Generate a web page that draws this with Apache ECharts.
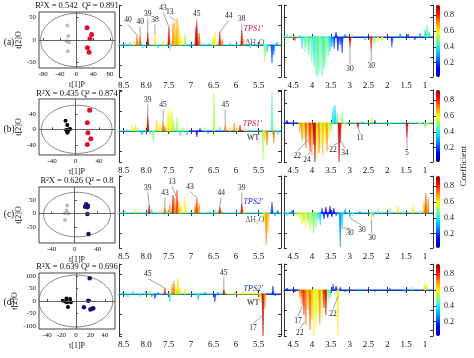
<!DOCTYPE html>
<html><head><meta charset="utf-8">
<script src="https://cdn.jsdelivr.net/npm/echarts@6/dist/echarts.min.js"></script>
<style>html,body{margin:0;padding:0;background:#fff}#c{width:474px;height:358px}</style>
</head><body><div id="c"></div>
<script>
// ---------------- DATA ----------------
const rowNames = ['(a)', '(b)', '(c)', '(d)'];
const scoreTitles = ['R\u00b2X = 0.542  Q\u00b2 = 0.891', 'R\u00b2X = 0.435 Q\u00b2 = 0.874', 'R\u00b2X = 0.626 Q\u00b2 = 0.8', 'R\u00b2X = 0.639 Q\u00b2 = 0.696'];

// score plots (t[1]P, t[2]O)
const scoreA_grey = [[-22, 32], [-20, 9], [-24, -3], [-18, -5], [-21, -25]];
const scoreA_red = [[25, 27], [36, 12], [32, 3], [26, -17], [30, -27]];
const scoreB_black = [[-17, 22], [-14, 11], [-11, 0], [-16, -2], [-13, -6], [-9, 1], [-14, -9]];
const scoreB_red = [[24, 49], [20, 17], [21, -9], [26, -24], [20, -39]];
const scoreC_grey = [[-13, 30], [-14, 11], [-17, 1], [-11, 0], [-17, -24]];
const scoreC_navy = [[20, 35], [23, 29], [18, 26], [22, 24], [22, -2], [24, -77]];
const scoreD_black = [[-18, 1], [-14, -3], [-13, 10], [-8, 8], [-7, -5], [-11, -24], [-12, -5]];
const scoreD_navy = [[19, 90], [17, 1], [11, -25], [20, -34], [24, -29], [22, -31]];
// Hotelling ellipse: centre x, centre y, radius x, radius y
const ellipses = [[0, 0, 86, 59], [2, 0, 60, 62], [4, -4, 58, 84], [0, 0, 51, 103]];
const scoreXRange = [[-90, 92], [-62, 67], [-62, 70], [-51, 54]];
const scoreYRange = [[-62, 62], [-66, 78], [-111, 100], [-111, 111]];
const scoreXTicks = [[-80, -40, 0, 40, 80], [-40, 0, 40], [-40, 0, 40], [-40, -20, 0, 20, 40]];
const scoreYTicks = [[-50, 0, 50], [-40, 0, 40], [-50, 0, 50], [-100, -50, 0, 50, 100]];

// loading spectra: ppm ranges and ticks
const midPpmRange = [5.0, 8.6];
const rightPpmRange = [0.79, 4.74];
const midTicks = [8.5, 8, 7.5, 7, 6.5, 6, 5.5];
const midTickText = ['8.5', '8.0', '7.5', '7', '6.5', '6', '5.5'];
const rightTicks = [4.5, 4, 3.5, 3, 2.5, 2, 1.5, 1];
const rightTickText = ['4.5', '4', '3.5', '3', '2.5', '2', '1.5', '1'];
const midLoadRange = [[-32, 40], [-31, 41], [-35, 37], [-42, 30]];
const rightLoadRange = [[-40, 32], [-39, 33], [-35, 37], [-46, 26]];
const coefRange = [0.02, 0.925];
const coefTicks = [0.2, 0.4, 0.6, 0.8];

// peaks: [ppm, loading, coefficient]
const aMidPeaks = [[8.45,2,0.4],[8.36,3,0.45],[8.27,4,0.55],[8.20,10,0.72],[8.13,11,0.75],[8.07,-3,0.4],[7.96,12,0.88],[7.80,10,0.6],[7.73,-3,0.35],[7.62,5,0.55],[7.49,18,0.85],[7.47,-5,0.45],[7.40,22,0.7],[7.36,25,0.65],[7.31,27,0.68],[7.27,20,0.62],[7.22,10,0.6],[7.13,12,0.5],[7.02,-2,0.3],[6.89,18,0.82],[6.87,23,0.88],[6.82,12,0.75],[6.69,-2,0.35],[6.60,2,0.4],[6.51,8,0.55],[6.47,13,0.6],[6.36,13,0.82],[6.31,6,0.7],[6.13,3,0.45],[6.00,-2,0.35],[5.87,15,0.88],[5.84,6,0.7],[5.69,-3,0.35],[5.36,-17,0.5],[5.31,-8,0.4],[5.20,-18,0.2],[5.16,-10,0.25],[5.09,3,0.3]];
const aMidBase = [[8.6,7.0,0.38],[7.0,5.0,0.35]];
const aRightPeaks = [[4.66,3,0.45],[4.45,-4,0.75],[4.32,2,0.4],[4.26,-12,0.4],[4.18,-15,0.45],[4.13,-10,0.5],[4.08,-18,0.42],[4.00,-25,0.45],[3.94,-30,0.4],[3.89,-38,0.45],[3.84,-40,0.42],[3.79,-35,0.5],[3.73,-40,0.45],[3.68,-32,0.4],[3.63,-28,0.5],[3.57,-20,0.45],[3.52,-15,0.35],[3.47,-10,0.3],[3.41,-12,0.2],[3.36,5,0.15],[3.31,-14,0.15],[3.25,-8,0.2],[3.20,-16,0.18],[3.12,3,0.25],[2.99,-10,0.85],[2.94,3,0.5],[2.59,-3,0.3],[2.43,-13,0.8],[2.35,-8,0.5],[2.25,-6,0.55],[2.14,-4,0.6],[1.88,-10,0.2],[1.66,4,0.3],[1.45,3,0.2],[1.27,-3,0.2],[1.13,4,0.3],[1.00,8,0.4],[0.95,12,0.45],[0.89,6,0.4]];
const aRightBase = [[4.74,4.3,0.45],[4.3,3.2,0.35],[3.2,0.79,0.18]];

const bMidPeaks = [[8.31,5,0.6],[8.24,6,0.55],[8.18,4,0.5],[8.09,-4,0.3],[7.96,16,0.88],[7.91,-3,0.4],[7.84,-12,0.5],[7.76,11,0.62],[7.69,8,0.6],[7.62,9,0.75],[7.58,5,0.7],[7.51,18,0.6],[7.47,23,0.58],[7.42,20,0.55],[7.38,10,0.5],[7.31,14,0.5],[7.24,-5,0.4],[7.18,4,0.55],[7.09,-4,0.35],[6.87,-6,0.15],[6.80,3,0.2],[6.69,4,0.5],[6.62,-3,0.3],[6.49,38,0.52],[6.36,4,0.4],[6.24,7,0.72],[6.13,5,0.6],[6.04,8,0.7],[5.98,4,0.55],[5.91,6,0.8],[5.80,3,0.6],[5.40,-29,0.52],[5.36,-10,0.62],[5.31,-14,0.72],[5.20,39,0.45],[5.16,-12,0.72],[5.07,-4,0.4]];
const bMidBase = [[8.6,7.05,0.35],[7.05,6.55,0.18],[6.55,5.8,0.2],[5.8,5.0,0.3]];
const bRightPeaks = [[4.66,3,0.15],[4.50,-2,0.2],[4.32,-10,0.65],[4.26,-18,0.7],[4.21,-15,0.6],[4.16,-25,0.75],[4.10,-20,0.65],[4.05,-28,0.8],[4.00,-32,0.7],[3.95,-22,0.85],[3.92,-39,0.88],[3.86,-35,0.6],[3.81,-30,0.72],[3.76,-25,0.55],[3.71,-33,0.65],[3.65,-20,0.6],[3.60,-28,0.7],[3.55,-15,0.55],[3.49,-10,0.5],[3.44,16,0.4],[3.39,18,0.35],[3.33,10,0.45],[3.28,-39,0.88],[3.25,-20,0.82],[3.20,12,0.5],[3.12,-3,0.5],[2.78,-5,0.85],[2.67,2,0.4],[2.41,6,0.6],[2.33,3,0.2],[1.93,-2,0.4],[1.48,-15,0.85],[1.13,-3,0.5],[1.00,-5,0.5],[0.92,-3,0.55]];
const bRightBase = [[4.74,4.35,0.18],[4.35,3.1,0.5],[3.1,0.79,0.4]];

const cMidPeaks = [[8.47,2,0.45],[8.24,3,0.55],[8.13,2,0.5],[7.93,8,0.85],[7.87,4,0.4],[7.69,3,0.55],[7.58,6,0.75],[7.51,4,0.45],[7.47,10,0.68],[7.40,18,0.85],[7.36,15,0.7],[7.31,23,0.8],[7.27,12,0.65],[7.22,8,0.6],[7.13,16,0.6],[6.91,8,0.7],[6.87,15,0.78],[6.82,10,0.68],[6.58,2,0.4],[6.47,4,0.45],[6.40,3,0.5],[6.36,6,0.85],[6.31,2,0.7],[5.87,10,0.85],[5.82,3,0.6],[5.38,-10,0.6],[5.33,-32,0.7],[5.29,-20,0.65],[5.20,11,0.18],[5.13,-3,0.3],[5.07,3,0.25]];
const cMidBase = [[8.6,5.0,0.38]];
const cRightPeaks = [[4.66,-3,0.4],[4.53,3,0.25],[4.42,-3,0.5],[4.32,-6,0.55],[4.26,-12,0.6],[4.21,-8,0.5],[4.16,-15,0.58],[4.10,-10,0.45],[4.05,-18,0.55],[4.00,-12,0.5],[3.95,-20,0.45],[3.89,-14,0.5],[3.84,-8,0.4],[3.78,-12,0.35],[3.73,5,0.2],[3.68,-6,0.15],[3.63,6,0.12],[3.58,-5,0.15],[3.52,7,0.12],[3.47,-4,0.18],[3.42,5,0.15],[3.36,-3,0.25],[3.25,-34,0.28],[3.20,-15,0.35],[3.12,4,0.3],[2.99,-5,0.4],[2.91,-3,0.45],[2.73,2,0.3],[2.43,-7,0.55],[2.38,-4,0.4],[2.25,3,0.45],[2.14,2,0.5],[1.93,5,0.5],[1.72,7,0.62],[1.58,3,0.5],[1.32,8,0.6],[1.13,3,0.5],[1.03,12,0.65],[0.98,20,0.75],[0.92,15,0.7]];
const cRightBase = [[4.74,4.4,0.35],[4.4,3.8,0.5],[3.8,3.3,0.15],[3.3,0.79,0.3]];

const dMidPeaks = [[8.53,2,0.4],[8.40,-3,0.35],[8.29,3,0.4],[8.13,-3,0.35],[8.02,3,0.45],[7.91,4,0.5],[7.87,-3,0.3],[7.80,-5,0.2],[7.73,2,0.3],[7.58,6,0.8],[7.47,-8,0.4],[7.42,10,0.68],[7.38,13,0.72],[7.33,8,0.6],[7.29,16,0.62],[7.24,6,0.55],[7.13,6,0.6],[6.84,-6,0.35],[6.69,2,0.3],[6.47,-8,0.2],[6.40,2,0.3],[6.27,5,0.85],[6.02,2,0.45],[5.84,3,0.55],[5.73,2,0.6],[5.58,2,0.6],[5.47,-5,0.65],[5.42,-8,0.6],[5.40,-42,0.88],[5.36,-15,0.7],[5.18,8,0.18],[5.13,-2,0.2]];
const dMidBase = [[8.6,6.2,0.33],[6.2,5.45,0.55],[5.45,5.0,0.2]];
const dRightPeaks = [[4.66,2,0.15],[4.45,-2,0.15],[4.32,-8,0.7],[4.26,-15,0.75],[4.21,-25,0.8],[4.16,-35,0.72],[4.10,-20,0.65],[4.05,-40,0.75],[4.00,-30,0.65],[3.95,-46,0.6],[3.89,-38,0.55],[3.84,-25,0.6],[3.79,-35,0.7],[3.73,-28,0.55],[3.68,-18,0.8],[3.63,-25,0.85],[3.57,-12,0.5],[3.52,-8,0.4],[3.44,6,0.2],[3.36,4,0.15],[3.31,-46,0.6],[3.25,3,0.2],[3.12,-2,0.2],[2.73,2,0.4],[2.33,-2,0.2],[1.93,2,0.25],[1.53,-2,0.3],[1.35,3,0.45],[1.00,7,0.6],[0.95,5,0.55]];
const dRightBase = [[4.74,4.3,0.18],[4.3,3.5,0.55],[3.5,0.79,0.2]];

// ---------------- ANNOTATIONS (text, peak ppm, peak loading, label ppm, label loading) ----------------
const aMidLabels = [['40',8.20,10,8.40,25],['40',8.13,11,8.13,23],['39',7.96,12,7.96,31],['38',7.80,10,7.80,25],['43',7.49,18,7.62,37],['13',7.36,25,7.47,33],['45',6.87,23,6.87,31],['44',6.36,13,6.16,29],['38',5.87,15,5.87,26]];
const aRightLabels = [['30',2.99,-10,2.99,-32],['30',2.43,-13,2.43,-29]];
const bMidLabels = [['39',7.96,16,7.96,31],['45',7.62,9,7.62,26],['45',6.24,7,6.24,26]];
const bRightLabels = [['22',4.10,-17,4.39,-33],['24',4.00,-27,4.13,-37],['22',3.31,-20,3.44,-27],['34',3.25,-17,3.12,-30],['11',2.78,-5,2.72,-15],['5',1.48,-15,1.48,-30]];
const cMidLabels = [['39',7.93,8,7.96,25],['43',7.58,6,7.58,20],['13',7.33,17,7.42,31],['43',6.87,15,7.02,26],['44',6.36,6,6.33,20],['39',5.87,10,5.87,25]];
const cRightLabels = [['30',3.20,-15,2.99,-20],['30',2.99,-5,2.67,-17],['30',2.43,-7,2.41,-25]];
const dMidLabels = [['45',7.58,6,7.96,20],['45',6.27,5,6.27,21],['17',5.42,-22,5.62,-34]];
const dRightLabels = [['17',4.26,-16,4.37,-31],['22',4.18,-31,4.32,-43],['22',3.31,-6,3.44,-24]];
// group tags: text, ppm, loading
const aMidTags = [["TPS1'",5.62,16],['\u0394H\u2082O',5.58,2]];
const bMidTags = [["TPS1'",5.64,7],['WT',5.62,-7]];
const cMidTags = [["TPS2'",5.62,11],['\u0394H\u2082O',5.58,-7]];
const dMidTags = [["TPS2'",5.62,5],['WT',5.62,-9]];

// ---------------- STYLE / LAYOUT ----------------
const SERIF = '"Liberation Serif","DejaVu Serif",serif';
const jet = ['#00008f','#0000ff','#0070ff','#00e0ff','#70ff90','#ffff00','#ff9000','#ff1000','#8f0000'];
const tagStyle = {"TPS1'": {fill:'#d4145a', font:'italic 8px ' + SERIF}, "TPS2'": {fill:'#1c1cc8', font:'italic 8px ' + SERIF}, 'WT': {fill:'#111', font:'8px ' + SERIF}, '\u0394H\u2082O': {fill:'#666', font:'8px ' + SERIF}};
const rowTops = [5, 90, 176, 264];
const scoreTops = [12, 99, 187, 273];
const labelYs = [42, 129, 214, 302];
const titleYs = [6, 94, 181, 267];
const yNameGaps = [12, 12, 12, 15];

const rows = [
  {score: [[scoreA_grey,'#bdbdbd',4],[scoreA_red,'#e0112b',5]], mid:[aMidPeaks,aMidBase,aMidLabels,aMidTags], right:[aRightPeaks,aRightBase,aRightLabels,[]]},
  {score: [[scoreB_black,'#000',4],[scoreB_red,'#e0112b',5]], mid:[bMidPeaks,bMidBase,bMidLabels,bMidTags], right:[bRightPeaks,bRightBase,bRightLabels,[]]},
  {score: [[scoreC_grey,'#bdbdbd',4],[scoreC_navy,'#14146e',4.5]], mid:[cMidPeaks,cMidBase,cMidLabels,cMidTags], right:[cRightPeaks,cRightBase,cRightLabels,[]]},
  {score: [[scoreD_black,'#000',4],[scoreD_navy,'#14146e',4.5]], mid:[dMidPeaks,dMidBase,dMidLabels,dMidTags], right:[dRightPeaks,dRightBase,dRightLabels,[]]}
];

const grids = [], xAxes = [], yAxes = [], series = [], visualMaps = [], graphics = [];
const addGrid = g => (grids.push(g), grids.length - 1);
const addX = a => (xAxes.push(a), xAxes.length - 1);
const addY = a => (yAxes.push(a), yAxes.length - 1);
const addS = s => (series.push(s), series.length - 1);
const lineC = {show: true, lineStyle: {color: '#333', width: 1}};

function spectrum(left, width, top, ppmRange, loadRange, ticks, tickText, pk, base, labels, tags, vmList) {
  const gi = addGrid({left, top, width, height: 72});
  const xc = {gridIndex: gi, type: 'value', min: ppmRange[0], max: ppmRange[1], inverse: true, splitLine: {show: false}, axisLine: lineC};
  const xi = addX(Object.assign({}, xc, {position: 'bottom',
    axisTick: {show: true, inside: true, length: 3, customValues: ticks, lineStyle: {color: '#333'}},
    axisLabel: {customValues: ticks, margin: 4, fontSize: 9, fontFamily: SERIF, color: '#111',
      formatter: v => { const i = ticks.findIndex(t => Math.abs(t - v) < 1e-6); return i >= 0 ? tickText[i] : ''; }}}));
  addX(Object.assign({}, xc, {position: 'top', axisTick: {show: true, inside: true, length: 3, customValues: ticks, lineStyle: {color: '#333'}}, axisLabel: {show: false}}));
  const yc = {gridIndex: gi, type: 'value', min: loadRange[0], max: loadRange[1], splitLine: {show: false}, axisLine: lineC,
    axisTick: {show: true, inside: true, length: 3, lineStyle: {color: '#333'}}, axisLabel: {show: false}, splitNumber: 4};
  const yi = addY(Object.assign({}, yc, {position: 'left'}));
  addY(Object.assign({}, yc, {position: 'right'}));
  vmList.push(addS({type: 'custom', xAxisIndex: xi, yAxisIndex: yi, data: base, clip: true, silent: true,
    encode: {x: [0, 1], y: 2},
    renderItem: (p, api) => { const a = api.coord([api.value(0), 0]), b = api.coord([api.value(1), 0]);
      return {type: 'line', shape: {x1: a[0], y1: a[1], x2: b[0], y2: b[1]}, style: {stroke: api.visual('color'), lineWidth: 1.1}}; }}));
  vmList.push(addS({type: 'custom', xAxisIndex: xi, yAxisIndex: yi, data: pk, clip: true, silent: true,
    encode: {x: 0, y: 1},
    renderItem: (p, api) => { const x = api.value(0), v = api.value(1); const a = api.coord([x, 0]), b = api.coord([x, v]); const c = api.visual('color');
      return {type: 'polygon', shape: {points: [[a[0] - 1.1, a[1]], [b[0], b[1]], [a[0] + 1.1, a[1]]]}, style: {fill: c, stroke: c, lineWidth: 0.5, opacity: 0.9}}; }}));
  if (labels.length) addS({type: 'custom', xAxisIndex: xi, yAxisIndex: yi, silent: true, clip: false,
    data: labels.map(l => [l[1], l[2], l[3], l[4]]), encode: {x: 0, y: 1},
    renderItem: (p, api) => { const pkp = api.coord([api.value(0), api.value(1)]), lb = api.coord([api.value(2), api.value(3)]);
      const d = pkp[1] > lb[1] ? 4.5 : -4.5;
      return {type: 'group', children: [
        {type: 'line', shape: {x1: lb[0], y1: lb[1] + d, x2: pkp[0], y2: pkp[1]}, style: {stroke: '#8a8a8a', lineWidth: 0.8}},
        {type: 'text', x: lb[0], y: lb[1], style: {text: labels[p.dataIndex][0], fill: '#222', font: '7.5px ' + SERIF, align: 'center', verticalAlign: 'middle', textAlign: 'center', textVerticalAlign: 'middle'}}]}; }});
  if (tags.length) addS({type: 'custom', xAxisIndex: xi, yAxisIndex: yi, silent: true, clip: false,
    data: tags.map(t => [t[1], t[2]]), encode: {x: 0, y: 1},
    renderItem: (p, api) => { const c = api.coord([api.value(0), api.value(1)]); const t = tags[p.dataIndex][0]; const st = tagStyle[t];
      return {type: 'text', x: c[0], y: c[1], style: {text: t, fill: st.fill, font: st.font, align: 'center', verticalAlign: 'middle', textAlign: 'center', textVerticalAlign: 'middle'}}; }});
}

rows.forEach((row, r) => {
  // score plot
  const gi = addGrid({left: 39, top: scoreTops[r], width: 76, height: 56, show: true, borderColor: '#444', borderWidth: 1});
  const xi = addX({gridIndex: gi, type: 'value', min: scoreXRange[r][0], max: scoreXRange[r][1], splitLine: {show: false},
    axisLine: {show: false}, axisTick: {show: true, inside: true, length: 2, customValues: scoreXTicks[r], lineStyle: {color: '#444'}},
    axisLabel: {customValues: scoreXTicks[r], fontSize: 7, fontFamily: SERIF, color: '#111', margin: 3},
    name: 't[1]P', nameLocation: 'middle', nameGap: 13, nameTextStyle: {fontSize: 8, fontFamily: SERIF, color: '#111'}});
  const yi = addY({gridIndex: gi, type: 'value', min: scoreYRange[r][0], max: scoreYRange[r][1], splitLine: {show: false},
    axisLine: {show: false}, axisTick: {show: true, inside: true, length: 2, customValues: scoreYTicks[r], lineStyle: {color: '#444'}},
    axisLabel: {customValues: scoreYTicks[r], fontSize: 7, fontFamily: SERIF, color: '#111', margin: 3},
    name: 't[2]O', nameLocation: 'middle', nameGap: yNameGaps[r], nameRotate: 90, nameTextStyle: {fontSize: 8, fontFamily: SERIF, color: '#111'}});
  addS({type: 'custom', xAxisIndex: xi, yAxisIndex: yi, silent: true, data: [ellipses[r]], encode: {x: 0, y: 1},
    renderItem: (p, api) => { const cx = api.value(0), cy = api.value(1), rx = api.value(2), ry = api.value(3); const pts = [];
      for (let k = 0; k <= 96; k++) { const t = k / 96 * 2 * Math.PI; pts.push(api.coord([cx + rx * Math.cos(t), cy + ry * Math.sin(t)])); }
      return {type: 'polyline', shape: {points: pts}, style: {stroke: '#777', fill: null, lineWidth: 0.9}}; }});
  row.score.forEach((g, k) => addS({type: 'scatter', xAxisIndex: xi, yAxisIndex: yi, data: g[0], symbolSize: g[2], silent: true,
    itemStyle: {color: g[1], opacity: 1},
    markLine: k === 0 ? {silent: true, symbol: 'none', label: {show: false}, lineStyle: {color: '#555', width: 0.9, type: 'solid'}, data: [{xAxis: 0}, {yAxis: 0}]} : undefined}));

  // spectra
  const vm = [];
  spectrum(119, 162, rowTops[r], midPpmRange, midLoadRange[r], midTicks, midTickText, row.mid[0], row.mid[1], row.mid[2], row.mid[3], vm);
  spectrum(284, 149, rowTops[r], rightPpmRange, rightLoadRange[r], rightTicks, rightTickText, row.right[0], row.right[1], row.right[2], row.right[3], vm);

  // colour bar + tick axis
  visualMaps.push({type: 'continuous', min: coefRange[0], max: coefRange[1], dimension: 2, seriesIndex: vm, inRange: {color: jet},
    orient: 'vertical', left: 436, top: rowTops[r], itemWidth: 4, itemHeight: 72, calculable: false, padding: 0, hoverLink: false, realtime: false});
  const cg = addGrid({left: 436, top: rowTops[r], width: 4, height: 72});
  addX({gridIndex: cg, type: 'value', show: false, min: 0, max: 1});
  addY({gridIndex: cg, type: 'value', position: 'right', min: coefRange[0], max: coefRange[1], splitLine: {show: false}, axisLine: {show: false},
    axisTick: {show: true, inside: true, length: 2, customValues: coefTicks, lineStyle: {color: '#333'}},
    axisLabel: {customValues: coefTicks, margin: 4, fontSize: 8, fontFamily: SERIF, color: '#111', formatter: v => v.toFixed(1)}});

  graphics.push({type: 'text', x: 9, y: labelYs[r], style: {text: rowNames[r], font: '9.5px ' + SERIF, fill: '#111', textAlign: 'center', textVerticalAlign: 'middle', align: 'center', verticalAlign: 'middle'}});
  graphics.push({type: 'text', x: 77, y: titleYs[r], style: {text: scoreTitles[r], font: '8.5px ' + SERIF, fill: '#111', textAlign: 'center', textVerticalAlign: 'middle', align: 'center', verticalAlign: 'middle'}});
});
graphics.push({type: 'text', x: 464, y: 166, rotation: Math.PI / 2, style: {text: 'Coefficient', font: '9px ' + SERIF, fill: '#111', textAlign: 'center', textVerticalAlign: 'middle', align: 'center', verticalAlign: 'middle'}});

const chart = echarts.init(document.getElementById('c'), null, {renderer: 'canvas'});
chart.setOption({backgroundColor: '#fff', animation: false, grid: grids, xAxis: xAxes, yAxis: yAxes, series, visualMap: visualMaps, graphic: graphics});
</script></body></html>
